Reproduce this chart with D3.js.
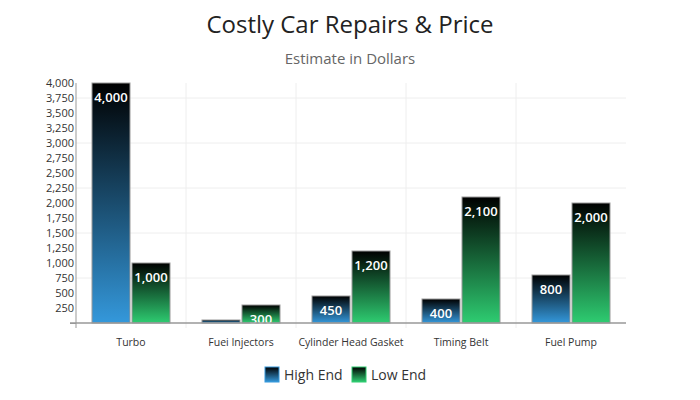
<!DOCTYPE html><html><head><meta charset="utf-8"><script src="https://cdn.jsdelivr.net/npm/d3@7"></script>
<style>body{margin:0;background:#fff;font-family:"Open Sans",sans-serif}</style></head><body><svg id="c" width="700" height="400"></svg><script>
const categories=["Turbo","Fuei Injectors","Cylinder Head Gasket","Timing Belt","Fuel Pump"];
const highEnd=[4000,50,450,400,800];
const lowEnd=[1000,300,1200,2100,2000];
const yTicks=[250,500,750,1000,1250,1500,1750,2000,2250,2500,2750,3000,3250,3500,3750,4000];
const gridVals=[750,1500,2250,3000,3750];
const svg=d3.select("#c");
const L=76,R=626,T=83,B=323;
const x=d3.scaleBand().domain(categories).range([L,R]);
const y=d3.scaleLinear().domain([0,4000]).range([B,T]);
const defs=svg.append("defs");
[["gH","#000000","#3498db"],["gL","#000000","#2ecc71"]].forEach(([id,a,b])=>{const g=defs.append("linearGradient").attr("id",id).attr("x1",0).attr("y1",0).attr("x2",0).attr("y2",1);g.append("stop").attr("offset",0).attr("stop-color",a);g.append("stop").attr("offset",1).attr("stop-color",b);});
svg.append("text").attr("x",350).attr("y",33).attr("text-anchor","middle").attr("font-size",24).attr("fill","#222").text("Costly Car Repairs & Price");
svg.append("text").attr("x",350).attr("y",64).attr("text-anchor","middle").attr("font-size",15).attr("fill","#666").text("Estimate in Dollars");
svg.append("g").selectAll("line").data(gridVals).join("line").attr("x1",L).attr("x2",R).attr("y1",d=>y(d)).attr("y2",d=>y(d)).attr("stroke","#eee");
svg.append("g").selectAll("line").data(categories.slice(1)).join("line").attr("x1",d=>x(d)).attr("x2",d=>x(d)).attr("y1",T).attr("y2",B+5).attr("stroke","#eee");
const bw=38;
const series=[{v:highEnd,g:"gH",off:-bw-1},{v:lowEnd,g:"gL",off:1}];
series.forEach(s=>{
 const data=categories.map((c,i)=>({c,v:s.v[i]}));
 const gg=svg.append("g");
 gg.selectAll("rect").data(data).join("rect").attr("x",d=>x(d.c)+x.bandwidth()/2+s.off).attr("width",bw).attr("y",d=>y(d.v)).attr("height",d=>B-y(d.v)).attr("fill",`url(#${s.g})`).attr("stroke","#999").attr("stroke-width",1);
 gg.selectAll("text").data(data.filter(d=>d.v>=100)).join("text").attr("x",d=>x(d.c)+x.bandwidth()/2+s.off+bw/2).attr("y",d=>y(d.v)+19).attr("text-anchor","middle").attr("font-size",13).attr("font-weight",600).attr("fill","#fff").text(d=>d3.format(",")(d.v));
});
const ya=svg.append("g").attr("transform",`translate(${L},0)`).call(d3.axisLeft(y).tickValues([0,...yTicks]).tickFormat(d=>d?d3.format(",")(d):"").tickSize(5));
ya.select(".domain").attr("stroke","#999").attr("d",`M0,${T}V${B+5}`);
ya.selectAll(".tick line").attr("stroke","#999").attr("x2",d=>d?0:-6);
ya.selectAll("text").attr("font-family","Open Sans").attr("font-size",11).attr("fill","#333").attr("x",-2);
svg.append("line").attr("x1",L-6).attr("x2",R).attr("y1",B).attr("y2",B).attr("stroke","#999").attr("stroke-width",1.5);
svg.append("g").selectAll("text").data(categories).join("text").attr("x",d=>x(d)+x.bandwidth()/2).attr("y",346).attr("text-anchor","middle").attr("font-size",10.5).attr("fill","#333").text(d=>d);
const leg=[["High End","gH",265],["Low End","gL",352]];
leg.forEach(([t,g,lx])=>{svg.append("rect").attr("x",lx).attr("y",367).attr("width",14).attr("height",15).attr("fill",`url(#${g})`).attr("stroke",g=="gH"?"#3498db":"#2ecc71").attr("stroke-width",1);svg.append("text").attr("x",lx+19).attr("y",380).attr("font-size",14).attr("fill","#333").text(t);});
</script></body></html>
